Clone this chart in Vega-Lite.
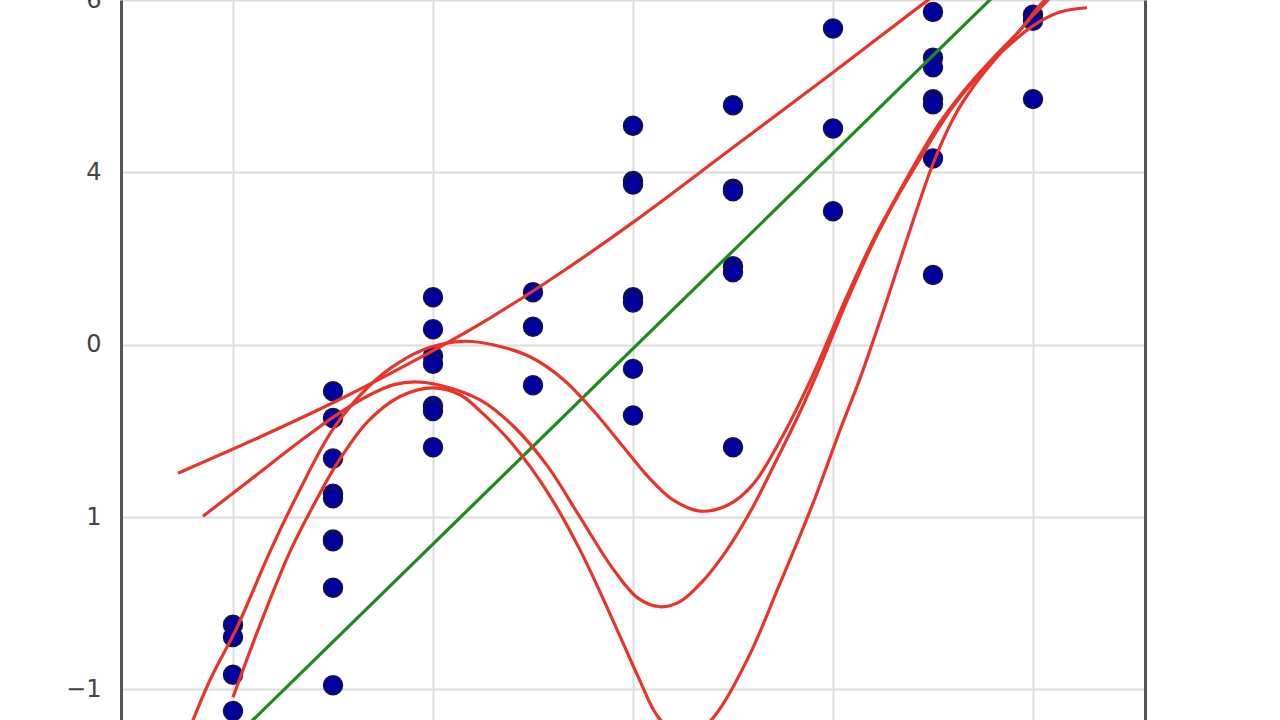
{
  "$schema": "https://vega.github.io/schema/vega-lite/v6.json",
  "width": 1024,
  "height": 720,
  "autosize": {"type": "none"},
  "padding": {"left": 121, "top": 0, "right": 135, "bottom": 0},
  "background": "white",
  "config": {"view": {"stroke": null}},
  "datasets": {
    "pts": [
      {"x": 0, "y": -1.25}, {"x": 0, "y": -1.39}, {"x": 0, "y": -1.83}, {"x": 0, "y": -2.25},
      {"x": 1, "y": 1.46}, {"x": 1, "y": 1.15}, {"x": 1, "y": 0.68}, {"x": 1, "y": 0.27}, {"x": 1, "y": 0.22}, {"x": 1, "y": -0.26}, {"x": 1, "y": -0.28}, {"x": 1, "y": -0.82}, {"x": 1, "y": -1.95},
      {"x": 2, "y": 2.55}, {"x": 2, "y": 2.18}, {"x": 2, "y": 1.87}, {"x": 2, "y": 1.78}, {"x": 2, "y": 1.29}, {"x": 2, "y": 1.23}, {"x": 2, "y": 0.81},
      {"x": 3, "y": 2.61}, {"x": 3, "y": 2.21}, {"x": 3, "y": 1.53},
      {"x": 4, "y": 4.54}, {"x": 4, "y": 3.9}, {"x": 4, "y": 3.86}, {"x": 4, "y": 2.55}, {"x": 4, "y": 2.49}, {"x": 4, "y": 1.72}, {"x": 4, "y": 1.18},
      {"x": 5, "y": 4.78}, {"x": 5, "y": 3.81}, {"x": 5, "y": 3.78}, {"x": 5, "y": 2.91}, {"x": 5, "y": 2.84}, {"x": 5, "y": 0.81},
      {"x": 6, "y": 5.67}, {"x": 6, "y": 4.51}, {"x": 6, "y": 3.55},
      {"x": 7, "y": 5.86}, {"x": 7, "y": 5.33}, {"x": 7, "y": 5.22}, {"x": 7, "y": 4.85}, {"x": 7, "y": 4.79}, {"x": 7, "y": 4.16}, {"x": 7, "y": 2.81},
      {"x": 8, "y": 5.83}, {"x": 8, "y": 5.76}, {"x": 8, "y": 4.85}
    ],
    "curves": [
      {"curve": "G", "x": 0, "y": -2.58}, {"curve": "G", "x": 8, "y": 6.49},
      {"curve": "L1", "x": -0.55, "y": 0.51}, {"curve": "L1", "x": 0.27, "y": 0.93}, {"curve": "L1", "x": 1.04, "y": 1.35}, {"curve": "L1", "x": 1.87, "y": 1.85}, {"curve": "L1", "x": 2.57, "y": 2.31}, {"curve": "L1", "x": 3.27, "y": 2.83}, {"curve": "L1", "x": 4.0, "y": 3.42}, {"curve": "L1", "x": 4.99, "y": 4.28}, {"curve": "L1", "x": 5.99, "y": 5.15}, {"curve": "L1", "x": 6.94, "y": 5.99}, {"curve": "L1", "x": 7.12, "y": 6.14},
      {"curve": "D", "x": -0.3, "y": 0.01}, {"curve": "D", "x": 0.27, "y": 0.52}, {"curve": "D", "x": 0.67, "y": 0.88}, {"curve": "D", "x": 1.04, "y": 1.19}, {"curve": "D", "x": 1.37, "y": 1.42}, {"curve": "D", "x": 1.62, "y": 1.54}, {"curve": "D", "x": 1.82, "y": 1.57}, {"curve": "D", "x": 2.07, "y": 1.53}, {"curve": "D", "x": 2.47, "y": 1.36}, {"curve": "D", "x": 2.8, "y": 1.06}, {"curve": "D", "x": 3.14, "y": 0.6}, {"curve": "D", "x": 3.47, "y": 0.0}, {"curve": "D", "x": 3.8, "y": -0.6}, {"curve": "D", "x": 4.05, "y": -0.94}, {"curve": "D", "x": 4.27, "y": -1.04}, {"curve": "D", "x": 4.47, "y": -0.98}, {"curve": "D", "x": 4.7, "y": -0.74}, {"curve": "D", "x": 4.94, "y": -0.38}, {"curve": "D", "x": 5.2, "y": 0.12}, {"curve": "D", "x": 5.4, "y": 0.58}, {"curve": "D", "x": 5.67, "y": 1.22}, {"curve": "D", "x": 5.87, "y": 1.75}, {"curve": "D", "x": 6.1, "y": 2.4}, {"curve": "D", "x": 6.4, "y": 3.18}, {"curve": "D", "x": 6.67, "y": 3.77}, {"curve": "D", "x": 6.84, "y": 4.1}, {"curve": "D", "x": 7.07, "y": 4.54}, {"curve": "D", "x": 7.27, "y": 4.87}, {"curve": "D", "x": 7.47, "y": 5.14}, {"curve": "D", "x": 7.67, "y": 5.38}, {"curve": "D", "x": 8.0, "y": 5.7}, {"curve": "D", "x": 8.27, "y": 5.86}, {"curve": "D", "x": 8.54, "y": 5.91},
      {"curve": "C", "x": -0.48, "y": -2.59}, {"curve": "C", "x": -0.23, "y": -1.89}, {"curve": "C", "x": 0.04, "y": -1.28}, {"curve": "C", "x": 0.37, "y": -0.4}, {"curve": "C", "x": 0.67, "y": 0.32}, {"curve": "C", "x": 1.0, "y": 1.02}, {"curve": "C", "x": 1.37, "y": 1.53}, {"curve": "C", "x": 1.67, "y": 1.8}, {"curve": "C", "x": 1.97, "y": 1.97}, {"curve": "C", "x": 2.3, "y": 2.04}, {"curve": "C", "x": 2.6, "y": 2.0}, {"curve": "C", "x": 2.97, "y": 1.86}, {"curve": "C", "x": 3.3, "y": 1.6}, {"curve": "C", "x": 3.6, "y": 1.24}, {"curve": "C", "x": 3.9, "y": 0.82}, {"curve": "C", "x": 4.15, "y": 0.47}, {"curve": "C", "x": 4.4, "y": 0.2}, {"curve": "C", "x": 4.67, "y": 0.07}, {"curve": "C", "x": 4.95, "y": 0.14}, {"curve": "C", "x": 5.2, "y": 0.38}, {"curve": "C", "x": 5.5, "y": 0.95}, {"curve": "C", "x": 5.8, "y": 1.65}, {"curve": "C", "x": 6.1, "y": 2.46}, {"curve": "C", "x": 6.4, "y": 3.21}, {"curve": "C", "x": 6.67, "y": 3.79}, {"curve": "C", "x": 6.84, "y": 4.14}, {"curve": "C", "x": 7.07, "y": 4.58}, {"curve": "C", "x": 7.27, "y": 4.89}, {"curve": "C", "x": 7.47, "y": 5.16}, {"curve": "C", "x": 7.67, "y": 5.41}, {"curve": "C", "x": 7.87, "y": 5.65}, {"curve": "C", "x": 8.07, "y": 5.94}, {"curve": "C", "x": 8.22, "y": 6.11},
      {"curve": "E", "x": 0.0, "y": -2.09}, {"curve": "E", "x": 0.27, "y": -1.25}, {"curve": "E", "x": 0.57, "y": -0.4}, {"curve": "E", "x": 0.82, "y": 0.17}, {"curve": "E", "x": 1.04, "y": 0.62}, {"curve": "E", "x": 1.34, "y": 1.1}, {"curve": "E", "x": 1.67, "y": 1.4}, {"curve": "E", "x": 2.0, "y": 1.5}, {"curve": "E", "x": 2.27, "y": 1.42}, {"curve": "E", "x": 2.5, "y": 1.2}, {"curve": "E", "x": 2.8, "y": 0.84}, {"curve": "E", "x": 3.14, "y": 0.3}, {"curve": "E", "x": 3.47, "y": -0.38}, {"curve": "E", "x": 3.8, "y": -1.2}, {"curve": "E", "x": 4.07, "y": -1.9}, {"curve": "E", "x": 4.24, "y": -2.3}, {"curve": "E", "x": 4.52, "y": -2.6}, {"curve": "E", "x": 4.8, "y": -2.33}, {"curve": "E", "x": 5.14, "y": -1.66}, {"curve": "E", "x": 5.47, "y": -0.77}, {"curve": "E", "x": 5.8, "y": 0.16}, {"curve": "E", "x": 6.07, "y": 1.01}, {"curve": "E", "x": 6.27, "y": 1.61}, {"curve": "E", "x": 6.54, "y": 2.52}, {"curve": "E", "x": 6.77, "y": 3.33}, {"curve": "E", "x": 7.0, "y": 4.1}, {"curve": "E", "x": 7.2, "y": 4.62}, {"curve": "E", "x": 7.4, "y": 4.99}, {"curve": "E", "x": 7.67, "y": 5.38}, {"curve": "E", "x": 8.0, "y": 5.82}, {"curve": "E", "x": 8.14, "y": 5.99}, {"curve": "E", "x": 8.22, "y": 6.09}
    ]
  },
  "encoding": {
    "x": {
      "field": "x", "type": "quantitative",
      "scale": {"domain": [-1.12, 9.12], "nice": false, "zero": false},
      "axis": {"values": [0, 2, 4, 6, 8], "labels": false, "ticks": false, "domain": false, "title": null, "grid": true, "gridColor": "#dcdcdc", "gridWidth": 2}
    },
    "y": {
      "field": "y", "type": "quantitative",
      "scale": {"domain": [-2.354, 6.0], "nice": false, "zero": false}
    }
  },
  "layer": [
    {
      "data": {"name": "pts"},
      "mark": {"type": "point", "filled": true, "size": 360, "fill": "#0000a0", "stroke": "#15153a", "strokeWidth": 1.5, "opacity": 1, "clip": true},
      "encoding": {
        "y": {
          "field": "y", "type": "quantitative",
          "axis": {
            "orient": "left", "values": [-2, 0, 2, 4, 6], "title": null,
            "labelExpr": "datum.value == 6 ? '6' : datum.value == 4 ? '4' : datum.value == 2 ? '0' : datum.value == 0 ? '1' : '−1'",
            "labelFont": "DejaVu Sans", "labelFontSize": 24, "labelColor": "#444444", "labelPadding": 20,
            "ticks": false, "domain": true, "domainColor": "#555555", "domainWidth": 3,
            "grid": true, "gridColor": "#dcdcdc", "gridWidth": 2
          }
        }
      }
    },
    {
      "data": {"name": "curves"},
      "mark": {"type": "line", "strokeWidth": 3.2, "interpolate": "catmull-rom", "clip": true},
      "encoding": {
        "detail": {"field": "curve"},
        "color": {
          "field": "curve", "type": "nominal",
          "scale": {"domain": ["G", "L1", "C", "D", "E"], "range": ["#1f8a1f", "#e8352c", "#e8352c", "#e8352c", "#e8352c"]},
          "legend": null
        },
        "y": {
          "field": "y", "type": "quantitative",
          "axis": {"orient": "right", "labels": false, "ticks": false, "grid": false, "title": null, "domain": true, "domainColor": "#555555", "domainWidth": 3}
        }
      }
    }
  ],
  "resolve": {"axis": {"y": "independent"}}
}
